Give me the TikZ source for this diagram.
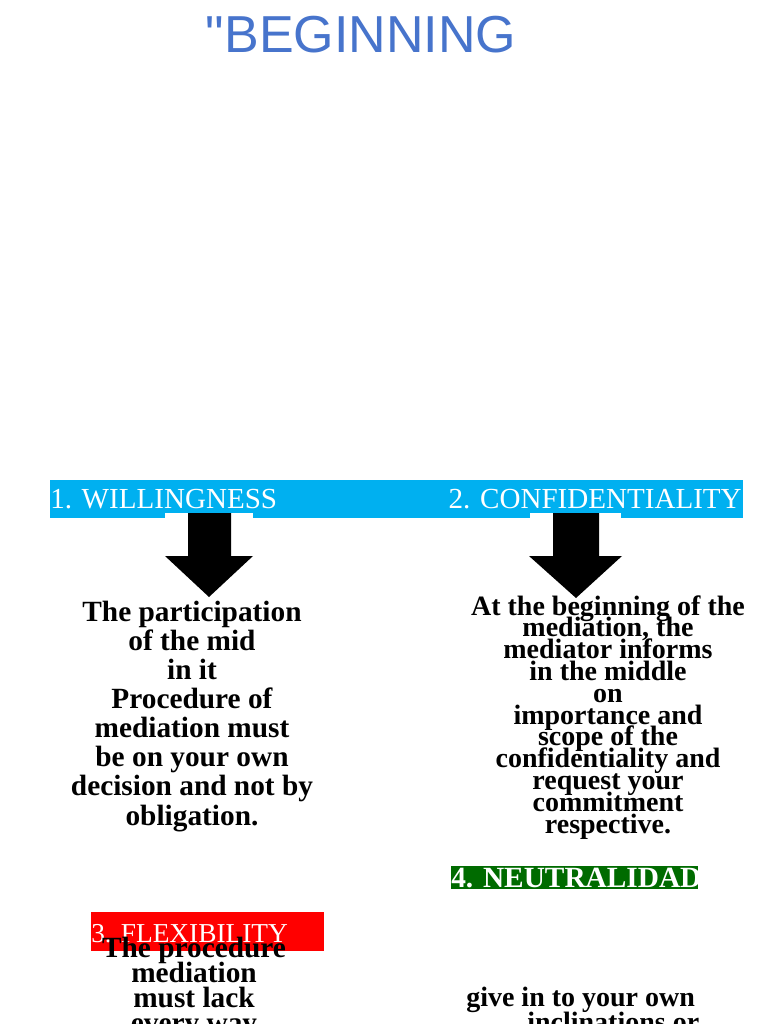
\documentclass[tikz,border=0pt]{standalone}
\usepackage{fontspec}
\setmainfont{Liberation Serif}
\newfontfamily\titlefont{Liberation Sans}
\definecolor{titleblue}{HTML}{4774CC}
\definecolor{barcyan}{HTML}{00B0F0}
\definecolor{barred}{HTML}{FF0000}
\definecolor{bargreen}{HTML}{006B00}
\begin{document}
\begin{tikzpicture}[x=0.75pt,y=-0.75pt,
  hdr/.style={text=white, inner sep=0pt, font=\fontsize{21.8}{21.8}\selectfont},
  body/.style={inner sep=0pt, anchor=base, font=\bfseries\fontsize{22}{22}\selectfont},
  bodys/.style={body, font=\bfseries\fontsize{21}{21}\selectfont},
  blockarrow/.style={fill=black},
  notch/.style={fill=white}]
\useasboundingbox (0,0) rectangle (768,1024);
\clip (0,0) rectangle (768,1024);
\fill[white] (0,0) rectangle (768,1024);

% title
\node[inner sep=0pt, anchor=base, text=titleblue, font=\titlefont\fontsize{39}{39}\selectfont] (title) at (361,53) {"BEGINNING};

% cyan header bar
\fill[barcyan] (50,480) rectangle (743,518);
\node[hdr, anchor=base west] (h1) at (50,508) {1. WILLINGNESS};
\node[hdr, anchor=base east] (h2) at (742,508) {2. CONFIDENTIALITY};

% arrows
\fill[notch] (165,513) rectangle (253,519);
\fill[blockarrow] (188,513) -- (231,513) -- (231,556) -- (253,556) -- (209,597) -- (165,556) -- (188,556) -- cycle;
\fill[notch] (530,513) rectangle (621,519);
\fill[blockarrow] (553,513) -- (599,513) -- (599,556) -- (622,556) -- (576,598) -- (529,556) -- (553,556) -- cycle;

% left block
\foreach \t [count=\i] in {The participation, of the mid, in it, Procedure of, mediation must, be on your own, decision and not by, obligation.}
  \node[body] (l\i) at (192,{621+29.15*(\i-1)}) {\t};

% right block
\foreach \t [count=\i] in {At the beginning of the, {mediation, the}, mediator informs, in the middle, on, importance and, scope of the, confidentiality and, request your, commitment, respective.}
  \node[bodys] (r\i) at (608,{615+21.8*(\i-1)}) {\t};

% 4. neutralidad
\fill[bargreen] (451,866) rectangle (698,889);
\node[inner sep=0pt, anchor=base west, text=white, font=\bfseries\fontsize{22}{22}\selectfont] (h4) at (451,887) {4. NEUTRALIDAD};

% 3. flexibility
\fill[barred] (91,912) rectangle (324,951);
\node[inner sep=0pt, anchor=base west, text=white, font=\fontsize{20.5}{20.5}\selectfont] (h3) at (91,942) {3. FLEXIBILITY};
\foreach \t [count=\i] in {The procedure, mediation, must lack, every way}
  \node[body] (f\i) at (194,{957+25*(\i-1)}) {\t};

% bottom right
\node[bodys, anchor=base west] (n1) at (466,1006) {give in to your own};
\node[bodys, anchor=base west] (n2) at (527,1031) {inclinations or};
\end{tikzpicture}
\end{document}
